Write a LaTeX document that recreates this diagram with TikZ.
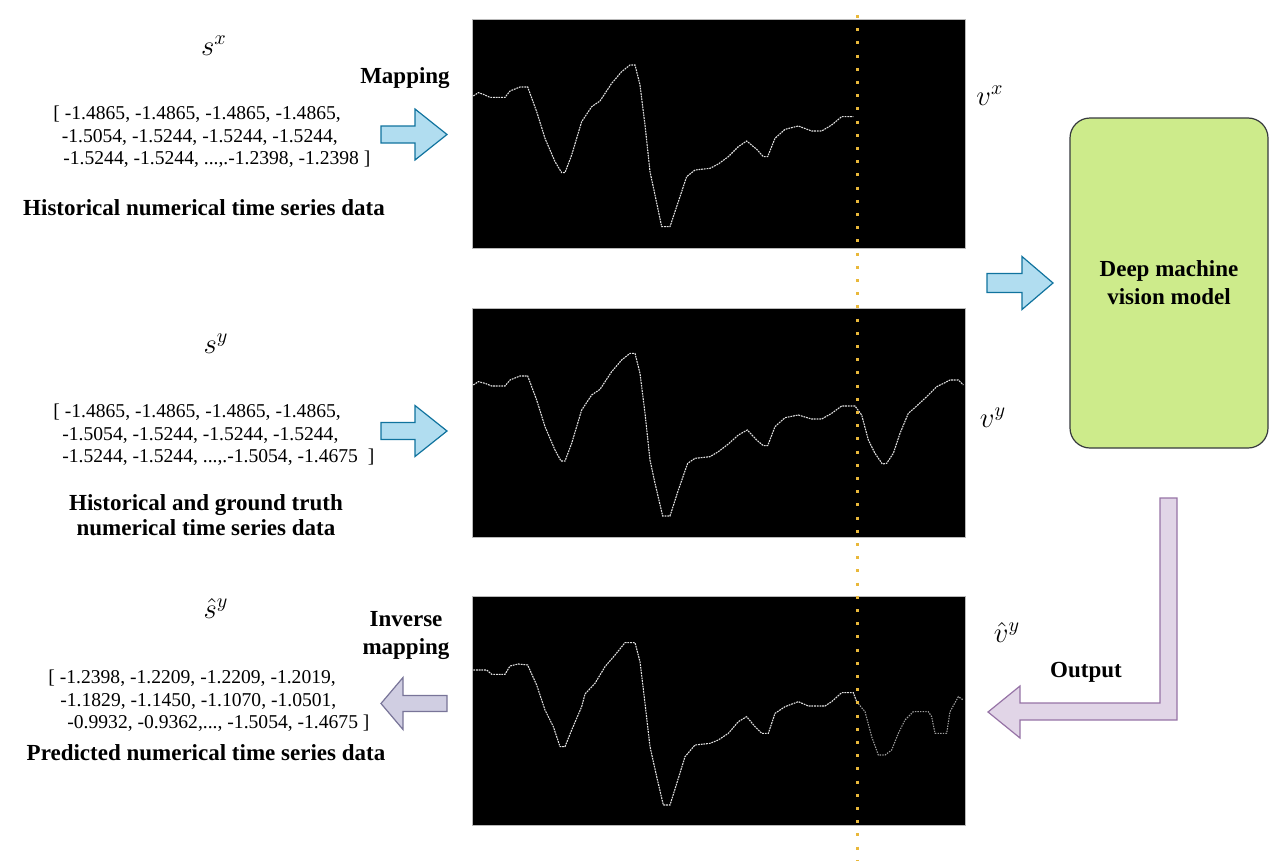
\documentclass[tikz,border=0pt]{standalone}
\usepackage{fontspec}
\setmainfont{Liberation Serif}
\usepackage{amsmath}
\usepackage{tikz}

\definecolor{mapblue}{HTML}{B1DDF0}
\definecolor{mapblueline}{HTML}{10739E}
\definecolor{invpurple}{HTML}{D0CEE2}
\definecolor{invpurpleline}{HTML}{56517E}
\definecolor{outpurple}{HTML}{E1D5E7}
\definecolor{outpurpleline}{HTML}{9673A6}
\definecolor{modelgreen}{HTML}{CDEB8B}
\definecolor{modelline}{HTML}{36393D}
\definecolor{splitgold}{HTML}{E9B83A}

\tikzset{
	panel/.style={fill=black, draw=gray!55, line width=0.5pt, inner sep=0pt, minimum width=246.5pt, minimum height=114.5pt},
	series/.style={white!88!black, line width=0.55pt, dash pattern=on 0.9pt off 0.45pt},
	forecast/.style={gray!75, line width=0.55pt, dash pattern=on 0.7pt off 0.6pt},
	maparrow/.style={fill=mapblue, draw=mapblueline, line width=0.6pt, line join=miter},
	invarrow/.style={fill=invpurple, draw=invpurpleline!80, line width=0.6pt, line join=miter},
	outarrow/.style={fill=outpurple, draw=outpurpleline, line width=0.6pt, line join=miter},
	numbers/.style={font=\fontsize{9.8}{11.3}\selectfont, align=left, inner sep=0pt, anchor=west},
	caption/.style={font=\fontsize{11.5}{12.5}\selectfont\bfseries, align=center, inner sep=0pt},
	symb/.style={font=\fontsize{14}{16}\selectfont, inner sep=0pt, anchor=base},
}

\begin{document}
\begin{tikzpicture}[x=0.5pt, y=-0.5pt]

	\useasboundingbox (0,0) rectangle (1274,867);

	% image panels
	\node[panel] (vx)  at (718.5,133.5) {};
	\node[panel] (vy)  at (718.5,422.5) {};
	\node[panel] (vhy) at (718.5,710.5) {};

	% series in the panels
	\begin{scope}[shift={(465,15)}, scale=1/3]
	\draw[series] plot coordinates {(25,243) (40,233) (55,238) (75,247) (120,247) (135,228) (165,216) (188,216) (215,290) (240,370) (270,440) (290,473) (300,473) (320,420) (350,320) (380,275) (405,258) (440,205) (470,170) (495,150) (510,150) (525,210) (540,330) (555,470) (570,540) (590,635) (615,635) (640,560) (665,485) (690,465) (735,460) (760,447) (790,425) (820,395) (845,378) (875,403) (895,425) (908,425) (930,370) (960,343) (1000,333) (1040,348) (1070,348) (1100,330) (1130,305) (1165,305)};
	\end{scope}
	\begin{scope}[shift={(465,300)}, scale=1/3]
	\draw[series] plot coordinates {(25,255) (40,245) (60,250) (80,258) (120,258) (135,240) (165,228) (188,228) (215,300) (240,380) (270,450) (288,483) (300,483) (320,430) (350,330) (380,285) (405,268) (440,215) (470,180) (495,160) (510,160) (525,220) (540,340) (555,480) (570,550) (593,648) (615,648) (640,570) (668,490) (690,475) (735,470) (760,455) (790,432) (820,405) (847,390) (875,420) (895,437) (908,437) (930,380) (960,353) (1000,345) (1040,357) (1070,357) (1100,340) (1130,318) (1170,318) (1190,345) (1210,420) (1230,460) (1252,492) (1265,490) (1285,460) (1305,400) (1330,340) (1355,318) (1385,290) (1415,260) (1440,248) (1455,240) (1480,240) (1495,255)};
	\end{scope}
	\begin{scope}[shift={(465,590)}, scale=1/3]
	\draw[series] plot coordinates {(25,240) (65,240) (80,253) (120,253) (135,228) (160,222) (188,225) (215,285) (240,360) (265,410) (285,470) (300,470) (320,420) (350,350) (360,312) (390,280) (420,230) (450,195) (480,158) (510,158) (525,215) (540,340) (555,470) (575,560) (595,645) (615,645) (640,565) (660,500) (690,465) (735,460) (760,450) (790,430) (820,395) (845,380) (870,410) (890,430) (910,430) (930,370) (960,350) (1000,335) (1030,348) (1080,348) (1100,335) (1130,308) (1165,308) (1175,335)};
	\draw[forecast] plot coordinates {(1175,335) (1200,365) (1220,440) (1240,495) (1260,495) (1280,480) (1300,430) (1320,390) (1345,365) (1390,365) (1400,380) (1410,430) (1445,430) (1455,365) (1480,320) (1495,330)};
	\end{scope}

	% split between history and horizon
	\coordinate (cuttop) at (857,15);
	\coordinate (cutbot) at (857,860);
	\draw[splitgold, line width=1.5pt, dash pattern=on 1.5pt off 5.1pt] (cuttop) -- (cutbot);

	% labels of the numerical series
	\node[symb] (sx)  at (214,55)  {$s^{x}$};
	\node[symb] (sy)  at (216,353) {$s^{y}$};
	\node[symb] (shy) at (216,618) {$\hat{s}^{y}$};

	\node[numbers] (numx) at (53,137) {[ -1.4865, -1.4865, -1.4865, -1.4865,\\
		\hspace*{4.2pt}-1.5054, -1.5244, -1.5244, -1.5244,\\
		\hspace*{5pt}-1.5244, -1.5244, ...,.-1.2398, -1.2398 ]};
	\node[numbers] (numy) at (53,435) {[ -1.4865, -1.4865, -1.4865, -1.4865,\\
		\hspace*{4.5pt}-1.5054, -1.5244, -1.5244, -1.5244,\\
		\hspace*{4.5pt}-1.5244, -1.5244, ...,.-1.5054, -1.4675~~]};
	\node[numbers] (numhy) at (48,701) {[ -1.2398, -1.2209, -1.2209, -1.2019,\\
		\hspace*{6pt}-1.1829, -1.1450, -1.1070, -1.0501,\\
		\hspace*{9.5pt}-0.9932, -0.9362,..., -1.5054, -1.4675 ]};

	\node[caption, anchor=base] (capx)  at (204,215) {Historical numerical time series data};
	\node[caption] (capy)  at (206,515) {Historical and ground truth\\numerical time series data};
	\node[caption, anchor=base] (caphy) at (206,760) {Predicted numerical time series data};

	% labels of the image panels
	\node[symb] (lvx)  at (990,105) {$v^{x}$};
	\node[symb] (lvy)  at (993,427) {$v^{y}$};
	\node[symb] (lvhy) at (1007,642) {$\hat{v}^{y}$};

	\node[caption, anchor=base] (lmap) at (405,83) {Mapping};
	\node[caption, font=\fontsize{11.5}{14}\selectfont\bfseries] (linv) at (406,635) {Inverse\\mapping};
	\node[caption, anchor=base] (lout) at (1086,677) {Output};

	% model
	\node[draw=modelline, fill=modelgreen, line width=0.6pt, rounded corners=10pt,
		minimum width=99pt, minimum height=165pt, align=center,
		font=\fontsize{11.5}{14}\selectfont\bfseries] (model) at (1169,283) {Deep machine\\vision model};

	% block arrows
	\draw[maparrow] (381,126) -- (415,126) -- (415,109) -- (447,134.5) -- (415,160) -- (415,143) -- (381,143) -- cycle;
	\draw[maparrow] (381,422.5) -- (415,422.5) -- (415,405.5) -- (447,431) -- (415,456.5) -- (415,439.5) -- (381,439.5) -- cycle;
	\draw[maparrow] (987,273.5) -- (1022,273.5) -- (1022,256.5) -- (1053,283) -- (1022,309.5) -- (1022,292.5) -- (987,292.5) -- cycle;
	\draw[invarrow] (447,695.5) -- (403,695.5) -- (403,677.5) -- (381,703.5) -- (403,729.5) -- (403,711.5) -- (447,711.5) -- cycle;
	\draw[outarrow] (1160,498) -- (1177,498) -- (1177,720) -- (1020,720) -- (1020,738) -- (988,712) -- (1020,686) -- (1020,703) -- (1160,703) -- cycle;

\end{tikzpicture}
\end{document}
